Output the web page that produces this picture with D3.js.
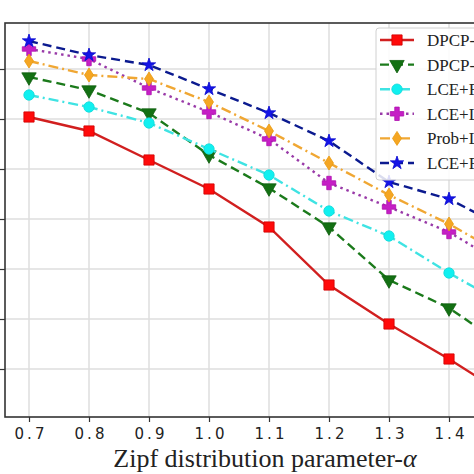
<!DOCTYPE html>
<html lang="en">
<head>
    <meta charset="UTF-8">
    <title>Zipf chart</title>
    <script src="https://d3js.org/d3.v7.min.js"></script>
    <style>
        body { margin: 0; background: white; }
        svg { display: block; }
        .tick-x { font-family: 'DejaVu Sans', sans-serif; font-size: 15px; fill: #222; letter-spacing: 3px; }
        .legend text { font-family: 'Liberation Serif', serif; font-size: 17px; fill: #222; }
        .title { font-family: 'Liberation Serif', serif; font-size: 26px; fill: #222; }
    </style>
</head>
<body>
<script>
    const width = 474;
    const height = 474;

    // data
    const alphas = [0.7, 0.8, 0.9, 1.0, 1.1, 1.2, 1.3, 1.4, 1.5];
    const xTicks = [0.7, 0.8, 0.9, 1.0, 1.1, 1.2, 1.3, 1.4];
    const yTicks = [0.2, 0.3, 0.4, 0.5, 0.6, 0.7, 0.8];
    const names = ["DPCP-LFU", "DPCP-LRU", "LCE+FIFO", "LCE+LRU", "Prob+LRU", "LCE+FIFO"];
    const dpcpA = [0.704, 0.676, 0.618, 0.560, 0.484, 0.368, 0.290, 0.220, 0.144];
    const dpcpB = [0.784, 0.758, 0.712, 0.628, 0.562, 0.484, 0.378, 0.322, 0.240];
    const lceR  = [0.748, 0.724, 0.692, 0.640, 0.588, 0.516, 0.466, 0.392, 0.324];
    const lceL  = [0.840, 0.820, 0.762, 0.714, 0.660, 0.572, 0.524, 0.474, 0.402];
    const probL = [0.816, 0.788, 0.780, 0.734, 0.676, 0.612, 0.548, 0.490, 0.422];
    const lceF  = [0.856, 0.828, 0.808, 0.760, 0.712, 0.656, 0.574, 0.540, 0.478];

    const styles = [
        {line: "#d11f1f", fill: "#ff0a0a", stroke: "#d00000", dash: null, sym: d3.symbolSquare, size: 105, rot: 0},
        {line: "#1b7a1b", fill: "#137013", stroke: "#0e5e0e", dash: "9,5", sym: d3.symbolTriangle, size: 90, rot: 180},
        {line: "#3fe3e3", fill: "#10f0f0", stroke: "#10d8d8", dash: "10,4,2,4", sym: d3.symbolCircle, size: 85, rot: 0},
        {line: "#993aa8", fill: "#c51fc5", stroke: "#b010b0", dash: "2.5,4", sym: d3.symbolCross, size: 100, rot: 0},
        {line: "#f0a733", fill: "#f5a623", stroke: "#e89a10", dash: "10,4,2,4", sym: "diamond", size: 0, rot: 0},
        {line: "#0b1a8f", fill: "#1414e6", stroke: "#0a0ad0", dash: "9,5", sym: d3.symbolStar, size: 55, rot: 0}
    ];
    const seriesVals = [dpcpA, dpcpB, lceR, lceL, probL, lceF];

    const x = d3.scaleLinear().domain([0.66, 1.54]).range([5, 533]);
    const y = d3.scaleLinear().domain([0.104, 0.892]).range([417, 23]);

    const svg = d3.select("body").append("svg").attr("width", width).attr("height", height);

    // grid
    svg.append("g").selectAll("line").data(alphas).join("line")
        .attr("x1", d => x(d)).attr("x2", d => x(d)).attr("y1", 23).attr("y2", 417)
        .attr("stroke", "#dedede").attr("stroke-width", 1.5);
    svg.append("g").selectAll("line").data(yTicks).join("line")
        .attr("x1", 5).attr("x2", 533).attr("y1", d => y(d)).attr("y2", d => y(d))
        .attr("stroke", "#dedede").attr("stroke-width", 1.5);

    // axes
    const xAxis = svg.append("g").attr("transform", "translate(0,417)")
        .call(d3.axisBottom(x).tickValues(xTicks).tickSize(5).tickFormat(d3.format(".1f")));
    xAxis.select(".domain").remove();
    xAxis.attr("font-size", null).attr("font-family", null);
    xAxis.selectAll("line").attr("stroke", "#333").attr("stroke-width", 1.2);
    xAxis.selectAll("text").attr("class", "tick-x").attr("y", 11).attr("dx", "1.5px");

    // y labels sit outside the cropped view, only the tick marks show
    const yAxis = svg.append("g").attr("transform", "translate(5,0)")
        .call(d3.axisLeft(y).tickValues(yTicks).tickSize(5).tickFormat(""));
    yAxis.select(".domain").remove();
    yAxis.selectAll("line").attr("stroke", "#333").attr("stroke-width", 1.2);

    // frame
    svg.append("rect").attr("x", 5).attr("y", 23).attr("width", 528).attr("height", 394)
        .attr("fill", "none").attr("stroke", "#333").attr("stroke-width", 1.6);

    function symbolPath(s) {
        if (s.sym === "diamond") return "M0,-7L4.5,0L0,7L-4.5,0Z";
        return d3.symbol().type(s.sym).size(s.size)();
    }

    const line = d3.line().x((d, i) => x(alphas[i])).y(d => y(d));

    seriesVals.forEach((vals, k) => {
        const s = styles[k];
        svg.append("path").datum(vals)
            .attr("d", line)
            .attr("fill", "none")
            .attr("stroke", s.line)
            .attr("stroke-width", 2.4)
            .attr("stroke-dasharray", s.dash);
        svg.append("g").selectAll("path").data(vals).join("path")
            .attr("d", symbolPath(s))
            .attr("transform", (d, i) => `translate(${x(alphas[i])},${y(d)}) rotate(${s.rot})`)
            .attr("fill", s.fill)
            .attr("stroke", s.stroke)
            .attr("stroke-width", 0.8);
    });

    // legend
    const legend = svg.append("g").attr("class", "legend");
    legend.append("rect").attr("x", 376).attr("y", 28).attr("width", 150).attr("height", 152)
        .attr("rx", 3).attr("fill", "white").attr("fill-opacity", 0.85)
        .attr("stroke", "#d0d0d0").attr("stroke-width", 1);
    names.forEach((n, k) => {
        const s = styles[k];
        const ly = 40 + k * 24.6;
        legend.append("line").attr("x1", 380).attr("x2", 414).attr("y1", ly).attr("y2", ly)
            .attr("stroke", s.line).attr("stroke-width", 2.4).attr("stroke-dasharray", s.dash);
        legend.append("path").attr("d", symbolPath(s))
            .attr("transform", `translate(397,${ly}) rotate(${s.rot})`)
            .attr("fill", s.fill).attr("stroke", s.stroke).attr("stroke-width", 0.8);
        legend.append("text").attr("x", 427).attr("y", ly + 6).text(n);
    });

    // x title
    const title = svg.append("text").attr("class", "title").attr("x", 265).attr("y", 467)
        .attr("text-anchor", "middle");
    title.append("tspan").text("Zipf distribution parameter-");
    title.append("tspan").style("font-style", "italic").text("α");
</script>
</body>
</html>
